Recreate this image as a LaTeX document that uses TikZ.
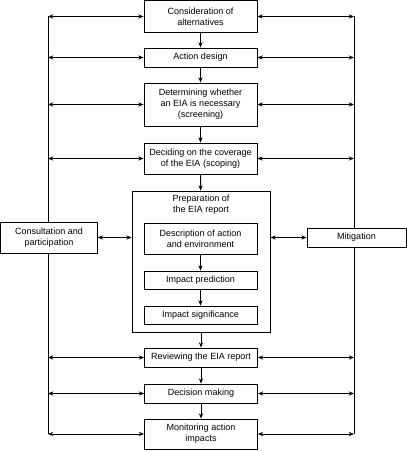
\documentclass[tikz,border=0pt]{standalone}
\usepackage{fontspec}
\setmainfont{Liberation Sans}
\usetikzlibrary{arrows.meta,positioning,calc}

\begin{document}
\begin{tikzpicture}[
    x=0.03cm, y=-0.03cm,
    box/.style={draw=black, line width=0.7pt, fill=white, align=center, inner sep=1pt,
                minimum width=3.39cm, font=\fontsize{7.7}{9.4}\selectfont},
    sidebox/.style={box, minimum width=2.9cm},
    bigbox/.style={draw=black, line width=0.7pt, minimum width=4.14cm, minimum height=4.23cm},
    flow/.style={-{Stealth[length=4.5pt,width=3.6pt]}, line width=0.7pt},
    link/.style={{Stealth[length=4.5pt,width=3.6pt]}-{Stealth[length=4.5pt,width=3.6pt]}, line width=0.7pt},
    rail/.style={line width=0.7pt}
]
\useasboundingbox (0,0) rectangle (406,451);

% Rails
\coordinate (ltop) at (48,16);
\coordinate (lbot) at (48,434);
\coordinate (rtop) at (354,16);
\coordinate (rbot) at (354,434);
\draw[rail] (ltop) -- (lbot);
\draw[rail] (rtop) -- (rbot);

% Main steps
\node[box, minimum height=0.96cm] (alternatives) at (200.5,16.5) {Consideration of\\alternatives};
\node[box, minimum height=0.57cm] (design) at (200.5,57.5) {Action design};
\node[box, minimum height=1.29cm] (screening) at (200.5,104.5) {Determining whether\\an EIA is necessary\\(screening)};
\node[box, minimum height=0.93cm] (scoping) at (200.5,158.5) {Deciding on the coverage\\of the EIA (scoping)};
\node[bigbox] (report) at (201,261.5) {};
\node[align=center, anchor=north, inner sep=0pt, font=\fontsize{7.7}{9.4}\selectfont] (reporttitle)
    at ($(report.north)+(0,4.5)$) {Preparation of\\the EIA report};
\node[box, minimum height=0.93cm] (description) at (200.5,238.5) {Description of action\\and environment};
\node[box, minimum height=0.54cm] (prediction) at (200.5,280) {Impact prediction};
\node[box, minimum height=0.54cm] (significance) at (200.5,315) {Impact significance};
\node[box, minimum height=0.57cm] (reviewing) at (201,357.5) {Reviewing the EIA report};
\node[box, minimum height=0.57cm] (decision) at (201,393.5) {Decision making};
\node[box, minimum height=0.9cm] (monitoring) at (201,434) {Monitoring action\\impacts};

% Side boxes
\node[sidebox, minimum height=0.93cm] (consultation) at (49,237.5) {Consultation and\\participation};
\node[sidebox, minimum height=0.57cm, minimum width=2.97cm] (mitigation) at (356.5,237.5) {Mitigation};

% Flow
\draw[flow] (alternatives) -- (design);
\draw[flow] (design) -- (screening);
\draw[flow] (screening) -- (scoping);
\draw[flow] (scoping) -- (report);
\draw[flow] (description) -- (prediction);
\draw[flow] (prediction) -- (significance);
\draw[flow] (report) -- (reviewing);
\draw[flow] (reviewing) -- (decision);
\draw[flow] (decision) -- (monitoring);

% Links to the rails
\foreach \step in {alternatives,design,screening,scoping,reviewing,decision,monitoring}{
    \draw[link] (ltop |- \step.west) -- (\step.west);
    \draw[link] (\step.east) -- (rtop |- \step.east);
}
\draw[link] (consultation.east) -- (consultation.east -| report.west);
\draw[link] (report.east |- mitigation.west) -- (mitigation.west);

\end{tikzpicture}
\end{document}
